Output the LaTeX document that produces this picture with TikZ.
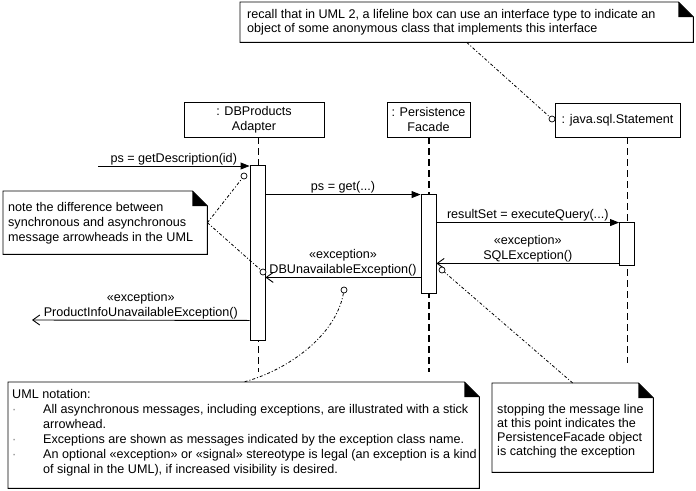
\documentclass[tikz,border=0pt]{standalone}
\usepackage{fontspec}
\setmainfont{Liberation Sans}
\usetikzlibrary{arrows.meta}
\newcommand\notefold[1]{%
  \draw[line width=0.9pt] (#1.north west) -- ([xshift=-15pt]#1.north east) -- ([yshift=-15pt]#1.north east) -- (#1.south east) -- (#1.south west) -- cycle;
  \fill ([xshift=-15pt]#1.north east) -- ([yshift=-15pt]#1.north east) -- ([xshift=-15pt,yshift=-15pt]#1.north east) -- cycle;}
\begin{document}
\begin{tikzpicture}[x=1pt,y=-1pt,
  every node/.style={font=\fontsize{12.6}{14.5}\selectfont},
  head/.style={draw, line width=0.9pt, align=center, inner sep=0pt},
  act/.style={draw, fill=white, line width=0.9pt, minimum width=15pt, inner sep=0pt},
  life/.style={line width=0.9pt, dash pattern=on 7pt off 4pt},
  sync/.style={line width=0.9pt, -{Triangle[length=9pt,width=7pt]}},
  async/.style={line width=0.9pt, -{Straight Barb[length=7pt,width=10pt]}},
  lbl/.style={above, inner sep=0.5pt, align=center, font=\fontsize{12.6}{15}\selectfont},
  frame/.style={inner sep=0pt, anchor=north west},
  ntext/.style={inner sep=0pt, anchor=north west, align=left},
  link/.style={line width=0.8pt, dash pattern=on 3pt off 2pt on 1pt off 2pt},
  circ/.style={circle, draw, fill=white, line width=0.7pt, minimum size=6pt, inner sep=0pt}
]
\useasboundingbox (0,0) rectangle (696,490);

% lifeline heads
\node[head, minimum width=140pt, minimum height=35pt] (headA) at (254,119.5) {: DBProducts\\Adapter};
\node[head, minimum width=83pt, minimum height=35pt] (headB) at (428.5,119.5) {: Persistence\\Facade};
\node[head, minimum width=125pt, minimum height=34pt] (headC) at (617.5,120) {: java.sql.Statement};

% lifelines
\coordinate (lA) at (258,137);
\coordinate (lB) at (429,137);
\coordinate (lC) at (627,137);
\draw[life] (lA) -- ++(0,235);
\draw[life, line width=1.8pt] (lB) -- ++(0,235);
\draw[life] (lC) -- ++(0,226);

% activations
\node[act, minimum height=175pt] (actA) at (257.5,252.5) {};
\node[act, minimum height=99pt] (actB) at (428.5,243.5) {};
\node[act, minimum height=43pt] (actC) at (627,243.5) {};

% messages
\coordinate (m1s) at (98,166);
\draw[sync] (m1s) -- (m1s -| actA.west) node[lbl, midway] (l1) {ps = getDescription(id)};
\path ([yshift=-1pt]actB.north west) coordinate (m2e);
\draw[sync] (actA.east |- m2e) -- (m2e) node[lbl, midway] (l2) {ps = get(...)};
\path ([yshift=-1pt]actC.north west) coordinate (m3e);
\draw[sync] (actB.east |- m3e) -- (m3e) node[lbl, midway] (l3) {resultSet = executeQuery(...)};
\path ([yshift=2pt]actC.south west) coordinate (m4s);
\draw[async] (m4s) -- (actB.east |- m4s) node[lbl, midway] (l4) {«exception»\\SQLException()};
\path ([yshift=16pt]actB.south west) coordinate (m5s);
\draw[async] (m5s) -- (actA.east |- m5s) node[lbl, midway] (l5) {«exception»\\DBUnavailableException()};
\path ([yshift=20pt]actA.south west) coordinate (m6s);
\coordinate (m6e) at (32,320);
\draw[async] (m6s) -- (m6e) node[lbl, midway] (l6) {«exception»\\ProductInfoUnavailableException()};

% notes
\node[frame, minimum width=453pt, minimum height=40pt] (topnote) at (240,2) {};
\notefold{topnote}
\node[ntext, font=\fontsize{12.6}{14}\selectfont] (ttop) at ([xshift=7pt,yshift=-6.7pt]topnote.north west) {recall that in UML 2, a lifeline box can use an interface type to indicate an\\object of some anonymous class that implements this interface};

\node[frame, minimum width=204pt, minimum height=63pt] (leftnote) at (3,191) {};
\notefold{leftnote}
\node[ntext, font=\fontsize{12.6}{15}\selectfont] (tleft) at ([xshift=5pt,yshift=-10.7pt]leftnote.north west) {note the difference between\\synchronous and asynchronous\\message arrowheads in the UML};

\node[frame, minimum width=471pt, minimum height=106pt] (umlnote) at (8,382) {};
\notefold{umlnote}
\node[ntext, font=\fontsize{12.6}{15}\selectfont] (tuml) at ([xshift=4pt,yshift=-6.7pt]umlnote.north west) {UML notation:\\
\makebox[31pt][l]{\textcolor{gray}{·}}All asynchronous messages, including exceptions, are illustrated with a stick\\
\hspace*{31pt}arrowhead.\\
\makebox[31pt][l]{\textcolor{gray}{·}}Exceptions are shown as messages indicated by the exception class name.\\
\makebox[31pt][l]{\textcolor{gray}{·}}An optional «exception» or «signal» stereotype is legal (an exception is a kind\\
\hspace*{31pt}of signal in the UML), if increased visibility is desired.};

\node[frame, minimum width=161pt, minimum height=89pt] (stopnote) at (492,383) {};
\notefold{stopnote}
\node[ntext, font=\fontsize{12.6}{14.3}\selectfont] (tstop) at ([xshift=5pt,yshift=-20.7pt]stopnote.north west) {stopping the message line\\at this point indicates the\\PersistenceFacade object\\is catching the exception};

% note anchors
\node[circ] (c1) at (244,176) {};
\node[circ] (c2) at (263,272) {};
\node[circ] (c3) at (552,119) {};
\node[circ] (c4) at (344,290) {};
\node[circ] (c5) at (442,270) {};

\draw[link] (leftnote.east) -- (c1);
\draw[link] (leftnote.east) -- (c2);
\draw[link] (topnote.south) -- (c3);
\draw[link] (c4) .. controls +(-8,45) and +(45,-12) .. (umlnote.north);
\draw[link] (stopnote.north) -- (c5);
\end{tikzpicture}
\end{document}
